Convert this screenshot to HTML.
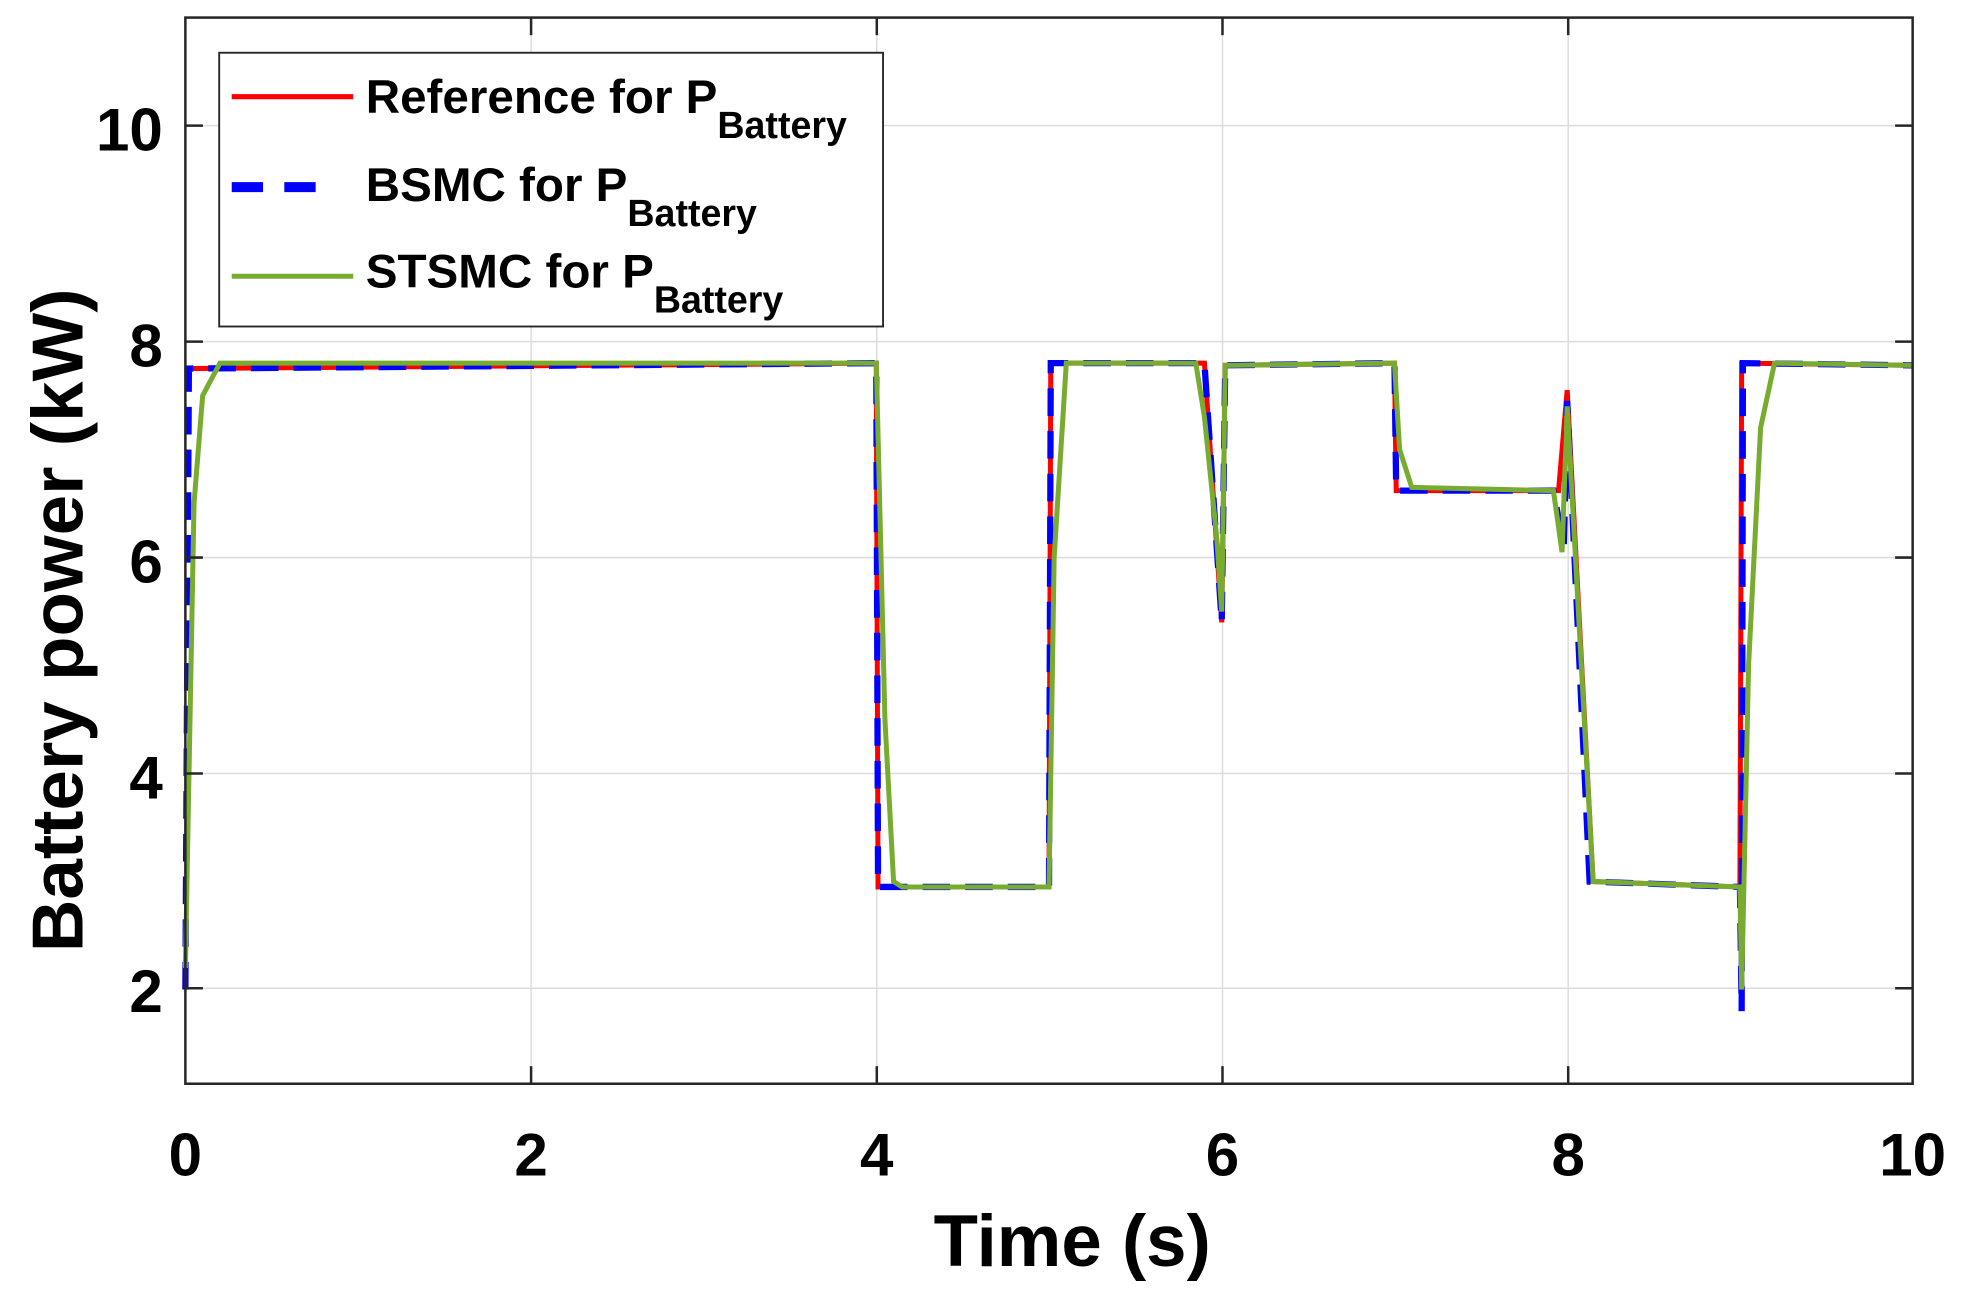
<!DOCTYPE html>
<html><head><meta charset="utf-8"><style>
html,body{margin:0;padding:0;background:#fff;}
svg{display:block;}
text{font-family:"Liberation Sans",Arial,sans-serif;font-weight:bold;fill:#000;}
</style></head><body>
<svg width="1964" height="1306" viewBox="0 0 1568 1040" preserveAspectRatio="none" xmlns="http://www.w3.org/2000/svg">
<rect x="0" y="0" width="1568" height="1040" fill="#fff"/>
<g stroke="#dcdcdc" stroke-width="1.2">
<line x1="424" y1="14" x2="424" y2="863"/><line x1="700" y1="14" x2="700" y2="863"/>
<line x1="976" y1="14" x2="976" y2="863"/><line x1="1252" y1="14" x2="1252" y2="863"/>
<line x1="148" y1="100" x2="1527" y2="100"/><line x1="148" y1="272" x2="1527" y2="272"/>
<line x1="148" y1="444" x2="1527" y2="444"/><line x1="148" y1="616" x2="1527" y2="616"/>
<line x1="148" y1="787" x2="1527" y2="787"/>
</g>
<polyline fill="none" stroke="#ff0000" stroke-width="4" points="148,293.5 699.6,289.2 701,706.3 837.5,706.3 838.9,289.2 961.6,289.2 975.4,495.6 978.2,290.9 1113.3,289.2 1114.7,390.7 1244.3,390.7 1251.2,310.7 1271.9,702 1389.1,706.3 1390.5,289.2 1527,290.9"/>
<polyline fill="none" stroke="#0000ff" stroke-width="5" stroke-dasharray="22 12" points="148,788 150.8,293.5 699.6,289.2 701,706.3 837.5,706.3 838.9,289.2 961.6,289.2 975.4,495.6 978.2,290.9 1113.3,289.2 1114.7,390.7 1240.2,390.7 1248.5,435.4 1251.2,319.3 1269.1,702 1389.1,706.3 1390.5,805.2 1391.5,289.2 1527,290.9"/>
<polyline fill="none" stroke="#77ac30" stroke-width="4" points="148,770.8 154.9,401 161.8,315 175.6,289.2 699.6,289.2 706.5,573 713.4,702 720.3,706.3 837.5,706.3 841.6,444 851.3,289.2 954.7,289.2 961.6,332.2 971.3,426.8 975.4,487 978.2,290.9 1113.3,289.2 1117.4,358 1127.1,388.1 1240.2,390.7 1247.1,439.7 1251.2,323.6 1271.9,702 1389.1,706.3 1390.5,788 1396,530 1405.6,340.8 1416.7,289.2 1527,290.9"/>
<rect x="148" y="14" width="1379" height="849" fill="none" stroke="#262626" stroke-width="2"/>
<g stroke="#262626" stroke-width="2">
<line x1="424" y1="14" x2="424" y2="28"/><line x1="700" y1="14" x2="700" y2="28"/><line x1="976" y1="14" x2="976" y2="28"/><line x1="1252" y1="14" x2="1252" y2="28"/>
<line x1="424" y1="863" x2="424" y2="849"/><line x1="700" y1="863" x2="700" y2="849"/><line x1="976" y1="863" x2="976" y2="849"/><line x1="1252" y1="863" x2="1252" y2="849"/>
<line x1="148" y1="100" x2="162" y2="100"/><line x1="148" y1="272" x2="162" y2="272"/><line x1="148" y1="444" x2="162" y2="444"/><line x1="148" y1="616" x2="162" y2="616"/><line x1="148" y1="787" x2="162" y2="787"/>
<line x1="1527" y1="100" x2="1513" y2="100"/><line x1="1527" y1="272" x2="1513" y2="272"/><line x1="1527" y1="444" x2="1513" y2="444"/><line x1="1527" y1="616" x2="1513" y2="616"/><line x1="1527" y1="787" x2="1513" y2="787"/>
</g>
<g font-size="48" text-anchor="end">
<text x="130" y="120">10</text><text x="130" y="292">8</text><text x="130" y="464">6</text><text x="130" y="636">4</text><text x="130" y="806">2</text>
</g>
<g font-size="48" text-anchor="middle">
<text x="148" y="936">0</text><text x="424" y="936">2</text><text x="700" y="936">4</text><text x="976" y="936">6</text><text x="1252" y="936">8</text><text x="1527" y="936">10</text>
</g>
<text x="856" y="1008" font-size="58" text-anchor="middle">Time (s)</text>
<text transform="translate(66,494) rotate(-90)" font-size="58" text-anchor="middle">Battery power (kW)</text>
<rect x="175" y="42" width="530" height="218" fill="#fff" stroke="#262626" stroke-width="1.5"/>
<line x1="185" y1="77" x2="282" y2="77" stroke="#ff0000" stroke-width="4"/>
<line x1="185" y1="149" x2="262" y2="149" stroke="#0000ff" stroke-width="8" stroke-dasharray="25 17"/>
<line x1="185" y1="220" x2="282" y2="220" stroke="#77ac30" stroke-width="4"/>
<g font-size="38">
<text x="292" y="90">Reference for P<tspan font-size="30" dy="20">Battery</tspan></text>
<text x="292" y="160">BSMC for P<tspan font-size="30" dy="20">Battery</tspan></text>
<text x="292" y="229">STSMC for P<tspan font-size="30" dy="20">Battery</tspan></text>
</g>
</svg>
</body></html>
